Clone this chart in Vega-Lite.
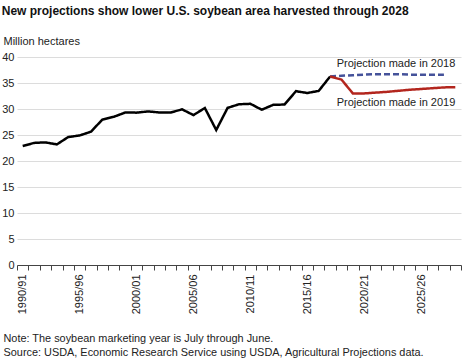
{
  "$schema": "https://vega.github.io/schema/vega-lite/v6.json",
  "autosize": {"type": "none"},
  "width": 444,
  "height": 208,
  "padding": {"left": 17, "top": 57, "right": 13, "bottom": 94},
  "background": "white",
  "config": {
    "font": "Liberation Sans",
    "view": {"stroke": null},
    "axis": {"labelFont": "Liberation Sans", "titleFont": "Liberation Sans", "labelColor": "#222", "titleColor": "#222"}
  },
  "title": {
    "text": "New projections show lower U.S. soybean area harvested through 2028",
    "anchor": "start",
    "frame": "bounds",
    "font": "Liberation Sans",
    "fontSize": 12,
    "fontWeight": "bold",
    "color": "#111",
    "offset": 17
  },
  "datasets": {
    "lines": [
      {"year": "1990/91", "series": "Historical", "value": 22.87},
      {"year": "1991/92", "series": "Historical", "value": 23.48},
      {"year": "1992/93", "series": "Historical", "value": 23.58},
      {"year": "1993/94", "series": "Historical", "value": 23.19},
      {"year": "1994/95", "series": "Historical", "value": 24.61},
      {"year": "1995/96", "series": "Historical", "value": 24.91},
      {"year": "1996/97", "series": "Historical", "value": 25.64},
      {"year": "1997/98", "series": "Historical", "value": 27.97},
      {"year": "1998/99", "series": "Historical", "value": 28.5},
      {"year": "1999/00", "series": "Historical", "value": 29.32},
      {"year": "2000/01", "series": "Historical", "value": 29.3},
      {"year": "2001/02", "series": "Historical", "value": 29.53},
      {"year": "2002/03", "series": "Historical", "value": 29.34},
      {"year": "2003/04", "series": "Historical", "value": 29.33},
      {"year": "2004/05", "series": "Historical", "value": 29.93},
      {"year": "2005/06", "series": "Historical", "value": 28.83},
      {"year": "2006/07", "series": "Historical", "value": 30.19},
      {"year": "2007/08", "series": "Historical", "value": 25.96},
      {"year": "2008/09", "series": "Historical", "value": 30.22},
      {"year": "2009/10", "series": "Historical", "value": 30.91},
      {"year": "2010/11", "series": "Historical", "value": 31.0},
      {"year": "2011/12", "series": "Historical", "value": 29.86},
      {"year": "2012/13", "series": "Historical", "value": 30.8},
      {"year": "2013/14", "series": "Historical", "value": 30.86},
      {"year": "2014/15", "series": "Historical", "value": 33.42},
      {"year": "2015/16", "series": "Historical", "value": 33.08},
      {"year": "2016/17", "series": "Historical", "value": 33.48},
      {"year": "2017/18", "series": "Historical", "value": 36.24},
      {"year": "2017/18", "series": "Projection made in 2018", "value": 36.24},
      {"year": "2018/19", "series": "Projection made in 2018", "value": 36.4},
      {"year": "2019/20", "series": "Projection made in 2018", "value": 36.5},
      {"year": "2020/21", "series": "Projection made in 2018", "value": 36.6},
      {"year": "2021/22", "series": "Projection made in 2018", "value": 36.7},
      {"year": "2022/23", "series": "Projection made in 2018", "value": 36.7},
      {"year": "2023/24", "series": "Projection made in 2018", "value": 36.7},
      {"year": "2024/25", "series": "Projection made in 2018", "value": 36.6},
      {"year": "2025/26", "series": "Projection made in 2018", "value": 36.6},
      {"year": "2026/27", "series": "Projection made in 2018", "value": 36.6},
      {"year": "2027/28", "series": "Projection made in 2018", "value": 36.6},
      {"year": "2017/18", "series": "Projection made in 2019", "value": 36.24},
      {"year": "2018/19", "series": "Projection made in 2019", "value": 35.66},
      {"year": "2019/20", "series": "Projection made in 2019", "value": 33.0},
      {"year": "2020/21", "series": "Projection made in 2019", "value": 33.0},
      {"year": "2021/22", "series": "Projection made in 2019", "value": 33.15},
      {"year": "2022/23", "series": "Projection made in 2019", "value": 33.3},
      {"year": "2023/24", "series": "Projection made in 2019", "value": 33.5},
      {"year": "2024/25", "series": "Projection made in 2019", "value": 33.7},
      {"year": "2025/26", "series": "Projection made in 2019", "value": 33.85},
      {"year": "2026/27", "series": "Projection made in 2019", "value": 34.0},
      {"year": "2027/28", "series": "Projection made in 2019", "value": 34.15},
      {"year": "2028/29", "series": "Projection made in 2019", "value": 34.2}
    ],
    "labels": [
      {"year": "2028/29", "value": 38.7, "label": "Projection made in 2018"},
      {"year": "2028/29", "value": 31.2, "label": "Projection made in 2019"}
    ]
  },
  "encoding": {
    "x": {
      "field": "year",
      "type": "ordinal",
      "sort": "ascending",
      "bandPosition": 0.5,
      "scale": {"type": "band", "paddingInner": 0, "paddingOuter": 0},
      "axis": {
        "tickBand": "extent",
        "labelAngle": -90,
        "labelFontSize": 11,
        "labelPadding": 4,
        "tickSize": 5,
        "tickColor": "#444",
        "domainColor": "#444",
        "labelExpr": "indexof(['1990/91','1995/96','2000/01','2005/06','2010/11','2015/16','2020/21','2025/26'], datum.value) >= 0 ? datum.value : ''",
        "title": ["Note: The soybean marketing year is July through June.", "Source: USDA, Economic Research Service using USDA, Agricultural Projections data."],
        "titleFontSize": 10.9,
        "titleFontWeight": "normal",
        "titleAnchor": "start",
        "titleAlign": "left",
        "titleBaseline": "top",
        "titleX": -14,
        "titleY": 67,
        "titleLineHeight": 14
      }
    },
    "y": {
      "field": "value",
      "type": "quantitative",
      "scale": {"domain": [0, 40]},
      "axis": {
        "values": [0, 5, 10, 15, 20, 25, 30, 35, 40],
        "labelOverlap": false,
        "domain": false,
        "ticks": false,
        "labelFontSize": 11,
        "labelPadding": 3,
        "gridColor": "#dcdcdc",
        "title": "Million hectares",
        "titleFontSize": 11,
        "titleFontWeight": "normal",
        "titleAngle": 0,
        "titleAlign": "left",
        "titleBaseline": "middle",
        "titleX": -14,
        "titleY": -16
      }
    }
  },
  "layer": [
    {
      "data": {"name": "lines"},
      "mark": {"type": "line", "strokeWidth": 2.5, "strokeJoin": "miter"},
      "encoding": {
        "color": {
          "field": "series",
          "type": "nominal",
          "scale": {"domain": ["Historical", "Projection made in 2018", "Projection made in 2019"], "range": ["#000000", "#45529a", "#b3261e"]},
          "legend": null
        },
        "strokeDash": {
          "field": "series",
          "type": "nominal",
          "scale": {"domain": ["Historical", "Projection made in 2018", "Projection made in 2019"], "range": [[1, 0], [6, 3], [1, 0]]},
          "legend": null
        }
      }
    },
    {
      "data": {"name": "labels"},
      "mark": {"type": "text", "align": "right", "baseline": "middle", "fontSize": 11, "color": "#222"},
      "encoding": {
        "text": {"field": "label"}
      }
    }
  ]
}
